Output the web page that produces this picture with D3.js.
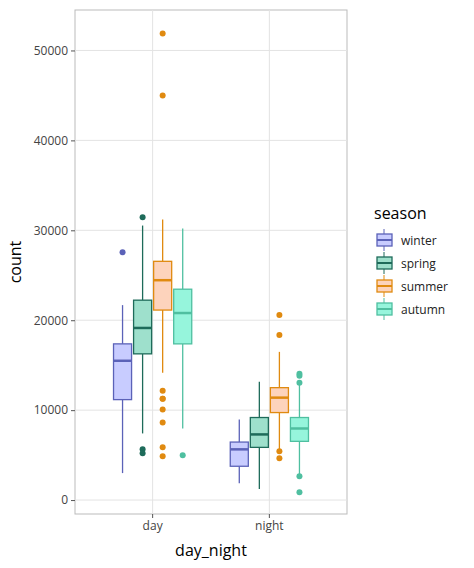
<!DOCTYPE html>
<html><head><meta charset="UTF-8">
<script src="https://cdn.jsdelivr.net/npm/d3@7"></script>
<style>body{margin:0;background:#fff}</style>
</head><body>
<svg width="474" height="568" font-family="Open Sans, sans-serif"></svg>
<script>
// data
var groups = ["day", "night"];
var seasons = ["winter", "spring", "summer", "autumn"];
var fills = ["#c8ccff", "#9ee0cc", "#fdd3bc", "#96f5dc"];
var strokes = ["#5b62b8", "#1e6b5a", "#e08a10", "#4fbfa0"];
var yTicks = [0, 10000, 20000, 30000, 40000, 50000];
// [lowWhisker, q1, median, q3, highWhisker]
var dayStats = [
    [3000, 11170, 15490, 17370, 21680],
    [7410, 16260, 19140, 22230, 30530],
    [14160, 21130, 24450, 26550, 31190],
    [7960, 17370, 20800, 23450, 30200]
];
var nightStats = [
    [1880, 3760, 5640, 6450, 8960],
    [1220, 5860, 7300, 9180, 13160],
    [5420, 9730, 11390, 12500, 16480],
    [2650, 6530, 7960, 9180, 13050]
];
var dayOutliers = [
    [27550],
    [31460, 5640, 5200],
    [51900, 45000, 12170, 11280, 11280, 10070, 8630, 5860, 4870],
    [4980]
];
var nightOutliers = [
    [],
    [],
    [20580, 18360, 5420, 4650],
    [14050, 13830, 13050, 2650, 880]
];

var svg = d3.select("svg");
var pl = 75, pr = 347, pt = 10, pb = 514;
var x = d3.scaleBand().domain(groups).range([pl, pr]).padding(0.33);
var sub = d3.scaleBand().domain(seasons).range([0, x.bandwidth()]).paddingInner(0.1);
var y = d3.scaleLinear().domain([-1550, 54500]).range([pb, pt]);

svg.append("rect").attr("x", pl).attr("y", pt).attr("width", pr - pl).attr("height", pb - pt)
    .attr("fill", "none").attr("stroke", "#bbb");
// grid
svg.append("g").selectAll("line").data(yTicks).enter().append("line")
    .attr("x1", pl).attr("x2", pr).attr("y1", y).attr("y2", y).attr("stroke", "#e3e3e3");
svg.append("g").selectAll("line").data(groups).enter().append("line")
    .attr("y1", pt).attr("y2", pb)
    .attr("x1", function(d){return x(d) + x.bandwidth() / 2})
    .attr("x2", function(d){return x(d) + x.bandwidth() / 2}).attr("stroke", "#e3e3e3");

// axes
var ya = svg.append("g").attr("transform", "translate(" + pl + ",0)")
    .call(d3.axisLeft(y).tickValues(yTicks).tickSize(4).tickFormat(d3.format("d")));
var xa = svg.append("g").attr("transform", "translate(0," + pb + ")")
    .call(d3.axisBottom(x).tickSize(4));
[ya, xa].forEach(function(a){
    a.select(".domain").remove();
    a.selectAll("line").attr("stroke", "#555");
    a.selectAll("text").attr("font-size", 12).attr("fill", "#444").attr("font-family", "Open Sans");
});
svg.append("text").attr("x", 211).attr("y", 556).attr("text-anchor", "middle")
    .attr("font-size", 16).text("day_night");
svg.append("text").attr("transform", "translate(21,262) rotate(-90)").attr("text-anchor", "middle")
    .attr("font-size", 16).text("count");

// boxes
function drawGroup(g, stats, outs) {
    stats.forEach(function(s, i){
        var bx = x(g) + sub(seasons[i]), w = sub.bandwidth(), cx = bx + w / 2;
        var gg = svg.append("g").attr("stroke", strokes[i]).attr("stroke-width", 1.3);
        gg.append("line").attr("x1", cx).attr("x2", cx).attr("y1", y(s[0])).attr("y2", y(s[1]));
        gg.append("line").attr("x1", cx).attr("x2", cx).attr("y1", y(s[3])).attr("y2", y(s[4]));
        gg.append("rect").attr("x", bx).attr("width", w).attr("y", y(s[3]))
            .attr("height", y(s[1]) - y(s[3])).attr("fill", fills[i]);
        gg.append("line").attr("x1", bx).attr("x2", bx + w).attr("y1", y(s[2])).attr("y2", y(s[2]))
            .attr("stroke-width", 2.5);
        gg.selectAll("circle").data(outs[i]).enter().append("circle")
            .attr("cx", cx).attr("cy", y).attr("r", 3).attr("stroke", "none").attr("fill", strokes[i]);
    });
}
drawGroup("day", dayStats, dayOutliers);
drawGroup("night", nightStats, nightOutliers);

// legend
svg.append("text").attr("x", 374).attr("y", 219).attr("font-size", 16).text("season");
var lg = svg.append("g").selectAll("g").data(seasons).enter().append("g")
    .attr("transform", function(d, i){return "translate(374," + (229 + i * 23) + ")"});
lg.append("line").attr("x1", 10).attr("x2", 10).attr("y1", 0).attr("y2", 22)
    .attr("stroke", function(d, i){return strokes[i]});
lg.append("rect").attr("x", 3).attr("y", 5).attr("width", 15).attr("height", 12)
    .attr("fill", function(d, i){return fills[i]}).attr("stroke", function(d, i){return strokes[i]}).attr("stroke-width", 1.3);
lg.append("line").attr("x1", 3).attr("x2", 18).attr("y1", 11).attr("y2", 11)
    .attr("stroke", function(d, i){return strokes[i]}).attr("stroke-width", 2);
lg.append("text").attr("x", 27).attr("y", 16).attr("font-size", 12).attr("fill", "#222").text(function(d){return d});
</script>
</body></html>
